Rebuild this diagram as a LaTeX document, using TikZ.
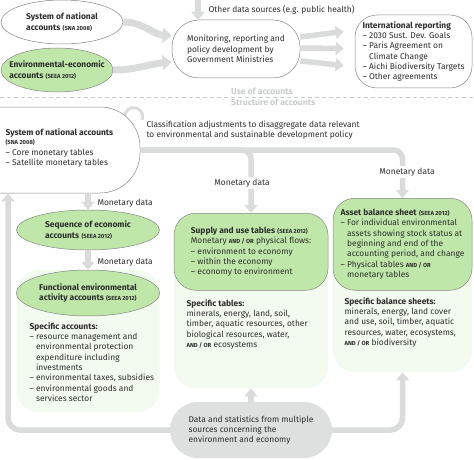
\documentclass[tikz,border=0pt]{standalone}
\usepackage{fontspec}
\setmainfont{Fira Sans}
\usetikzlibrary{shapes.geometric,arrows.meta,positioning}

\definecolor{accgreen}{HTML}{C0E7AA}
\definecolor{panelgreen}{HTML}{F3FAEF}
\definecolor{flowgray}{HTML}{D9DCDA}
\definecolor{datagray}{HTML}{DDE0DE}
\definecolor{edgegray}{HTML}{858585}
\definecolor{sepgray}{HTML}{C8CCCA}
\definecolor{txtgray}{HTML}{2E2E2E}

% small capitals for the codes
\newcommand\smc[1]{{\fontsize{5.9}{6}\selectfont\bfseries #1}}
\newcommand\ind{\hphantom{– }}

\begin{document}
\begin{tikzpicture}[x=1pt, y=-1pt,
    every node/.style={font=\fontsize{8.4}{10.3}\selectfont, text=txtgray},
    whiteell/.style={ellipse, draw=edgegray, line width=0.5pt, fill=white, align=left, inner xsep=-14pt, inner ysep=0pt},
    greenell/.style={whiteell, fill=accgreen},
    whitebox/.style={draw=edgegray, line width=0.5pt, fill=white, align=left},
    greenbox/.style={whitebox, fill=accgreen, rounded corners=22},
    panel/.style={fill=panelgreen, rounded corners=22},
    databox/.style={fill=datagray, align=left, rounded corners=28},
    flow/.style={draw=flowgray, line width=5.5pt, -{Triangle[width=13pt,length=8pt]}},
    bigflow/.style={flow, line width=7pt, -{Triangle[width=15pt,length=9pt]}},
    mdata/.style={fill=white, inner sep=1.5pt},
    seplabel/.style={font=\fontsize{8.6}{10}\selectfont\bfseries, text=sepgray, inner sep=1pt}
]
    \useasboundingbox (0,0) rectangle (474,460);

    % --- Use of accounts ---
    \node[whiteell, minimum width=122, minimum height=44] (snatop) at (62,22) {\textbf{System of national}\\\textbf{accounts} \smc{(SNA 2008)}};
    \node[greenell, minimum width=112, minimum height=44] (seeatop) at (57,70) {\textbf{Environmental-economic}\\\textbf{accounts} \smc{(SEEA 2012)}};
    \node[whitebox, rounded corners=27, minimum width=128, minimum height=58] (mon) at (236,49) {Monitoring, reporting and\\policy development by\\Government Ministries};
    \node[whitebox, rounded corners=22, minimum width=117, minimum height=73] (intl) at (413.5,51.5) {\textbf{International reporting}\\– 2030 Sust. Dev. Goals\\– Paris Agreement on\\\ind Climate Change\\– Aichi Biodiversity Targets\\– Other agreements};
    \node[anchor=west] (other) at (205,10) {Other data sources (e.g. public health)};
    \coordinate (othin) at (198,-1);

    \draw[flow] (othin) -- (othin |- mon.north);
    \draw[bigflow] (snatop.east) to[out=0, in=175] ([yshift=13]mon.west);
    \draw[bigflow] (seeatop.east) to[out=0, in=185] ([yshift=-13]mon.west);
    \draw[flow] ([yshift=12]mon.east) -- ([xshift=-11,yshift=20]intl.west);
    \draw[flow] ([yshift=1]mon.east) -- ([xshift=-11,yshift=3]intl.west);
    \draw[flow] ([yshift=-12]mon.east) -- ([xshift=-11,yshift=-14]intl.west);

    % --- separator ---
    \draw[draw=sepgray, line width=0.8pt, dash pattern=on 4pt off 3pt] (0,97) -- (474,97);
    \node[seplabel, anchor=south west] (usel) at (230,96) {Use of accounts};
    \node[seplabel, anchor=north west] (strl) at (230,98) {Structure of accounts};

    % --- Structure of accounts ---
    \draw[line width=3pt, draw=flowgray] (125,119) arc[start angle=165, end angle=380, radius=9];
    \node[whitebox, rounded corners=40, minimum width=190, minimum height=86] (snab) at (45,150) {};
    \node[anchor=north west, align=left] (snat) at (2,125) {\textbf{System of national accounts}\\[-1.5pt]\smc{(SNA 2008)}\\[1pt]– Core monetary tables\\– Satellite monetary tables};
    \node[anchor=north west, align=left] (clas) at (143,117) {Classification adjustments to disaggregate data relevant\\to environmental and sustainable development policy};

    \node[greenell, minimum width=143, minimum height=40] (seq) at (88,230) {\textbf{Sequence of economic}\\\textbf{accounts} \smc{(SEEA 2012)}};
    \node[panel, minimum width=143, minimum height=142, anchor=north] (funp) at (88,270) {};
    \node[greenell, minimum width=143, minimum height=46] (fun) at (88,293) {\textbf{Functional environmental}\\\textbf{activity accounts} \smc{(SEEA 2012)}};
    \node[anchor=north west, align=left] (funt) at (26,319) {\textbf{Specific accounts:}\\– resource management and\\\ind environmental protection\\\ind expenditure including\\\ind investments\\– environmental taxes, subsidies\\– environmental goods and\\\ind services sector};

    \node[panel, minimum width=154, minimum height=175, anchor=north] (sutp) at (251,213) {};
    \node[greenbox, minimum width=154, minimum height=77, anchor=north] (sut) at (251,213) {\textbf{Supply and use tables} \smc{(SEEA 2012)}\\Monetary \smc{AND / OR} physical flows:\\– environment to economy\\– within the economy\\– economy to environment};
    \node[anchor=north west, align=left] (sutt) at (183,296) {\textbf{Specific tables:}\\minerals, energy, land, soil,\\timber, aquatic resources, other\\biological resources, water,\\\smc{AND / OR} ecosystems};

    \node[panel, minimum width=139, minimum height=174, anchor=north] (assetp) at (402.5,198) {};
    \node[greenbox, minimum width=139, minimum height=92, anchor=north] (asset) at (402.5,198) {\textbf{Asset balance sheet} \smc{(SEEA 2012)}\\– For individual environmental\\\ind assets showing stock status at\\\ind beginning and end of the\\\ind accounting period, and change\\– Physical tables \smc{AND / OR}\\\ind monetary tables};
    \node[anchor=north west, align=left] (assett) at (341,294) {\textbf{Specific balance sheets:}\\minerals, energy, land cover\\and use, soil, timber, aquatic\\resources, water, ecosystems,\\\smc{AND / OR} biodiversity};

    \node[databox, minimum width=162, minimum height=56] (data) at (251,430) {Data and statistics from multiple\\sources concerning the\\environment and economy};
    \coordinate (lpl) at (8,430);

    \draw[flow, rounded corners=9] (snab.east) -| (asset.north);
    \draw[flow, rounded corners=9] (snab.east) -| (sut.north);
    \draw[flow] (seq.north |- snab.south) -- (seq.north);
    \draw[flow] (seq.south) -- (fun.north);
    \draw[flow, rounded corners=12] (data.west) -- (lpl) -- (lpl |- snab.south);
    \draw[flow, rounded corners=12] (data.east) -| (assetp.south);
    \draw[flow] (data.north) -- (sutp.south);

    \node[anchor=west] (md1) at (94,203) {Monetary data};
    \node[anchor=west] (md2) at (94,262) {Monetary data};
    \node[mdata] (md3) at (242,183) {Monetary data};
    \node[mdata] (md4) at (407,172) {Monetary data};
\end{tikzpicture}
\end{document}
